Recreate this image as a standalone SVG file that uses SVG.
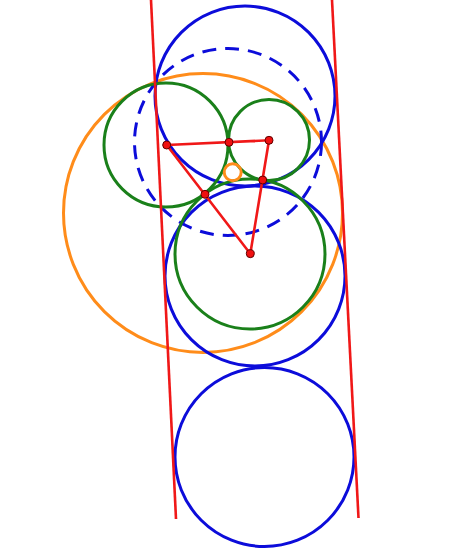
<svg xmlns="http://www.w3.org/2000/svg" width="474" height="553" viewBox="0 0 474 553">
<style>
.c{fill:none;stroke-width:3}
.b{stroke:#0c0cda}
.g{stroke:#1a801a}
.o{stroke:#ff8c1a}
.r{stroke:#f01818;stroke-width:2.6;fill:none}
.p{fill:#f01010;stroke:#600000;stroke-width:1}
</style>
<rect width="474" height="553" fill="#fff"/>
<g id="circles">
<circle id="orangeBig" class="c o" cx="203" cy="213" r="139.5"/>
<circle id="blueTop" class="c b" cx="245" cy="96" r="90"/>
<circle id="blueMid" class="c b" cx="255" cy="276" r="90"/>
<circle id="blueBot" class="c b" cx="264.5" cy="457" r="89.5"/>
<circle id="blueDash" class="c b" cx="228" cy="142" r="93.5" stroke-dasharray="14 9"/>
<circle id="greenLeft" class="c g" cx="166" cy="145" r="62"/>
<circle id="greenRight" class="c g" cx="269" cy="140" r="40.5"/>
<circle id="greenBot" class="c g" cx="250" cy="254" r="75"/>
<circle id="orangeSmall" class="c o" cx="232.7" cy="172.3" r="8.5"/>
</g>
<g id="connectors">
<line class="r" x1="151" y1="0" x2="176" y2="519"/>
<line class="r" x1="332" y1="0" x2="358.5" y2="518"/>
<polyline class="r" points="166.7,145 269,140.3 250.3,253.7 166.7,145"/>
</g>
<g id="points">
<circle class="p" cx="166.7" cy="145" r="4"/>
<circle class="p" cx="229" cy="142.3" r="4"/>
<circle class="p" cx="269" cy="140.3" r="4"/>
<circle class="p" cx="262.7" cy="180" r="4"/>
<circle class="p" cx="205" cy="194.3" r="4"/>
<circle class="p" cx="250.3" cy="253.7" r="4"/>
</g>
</svg>
